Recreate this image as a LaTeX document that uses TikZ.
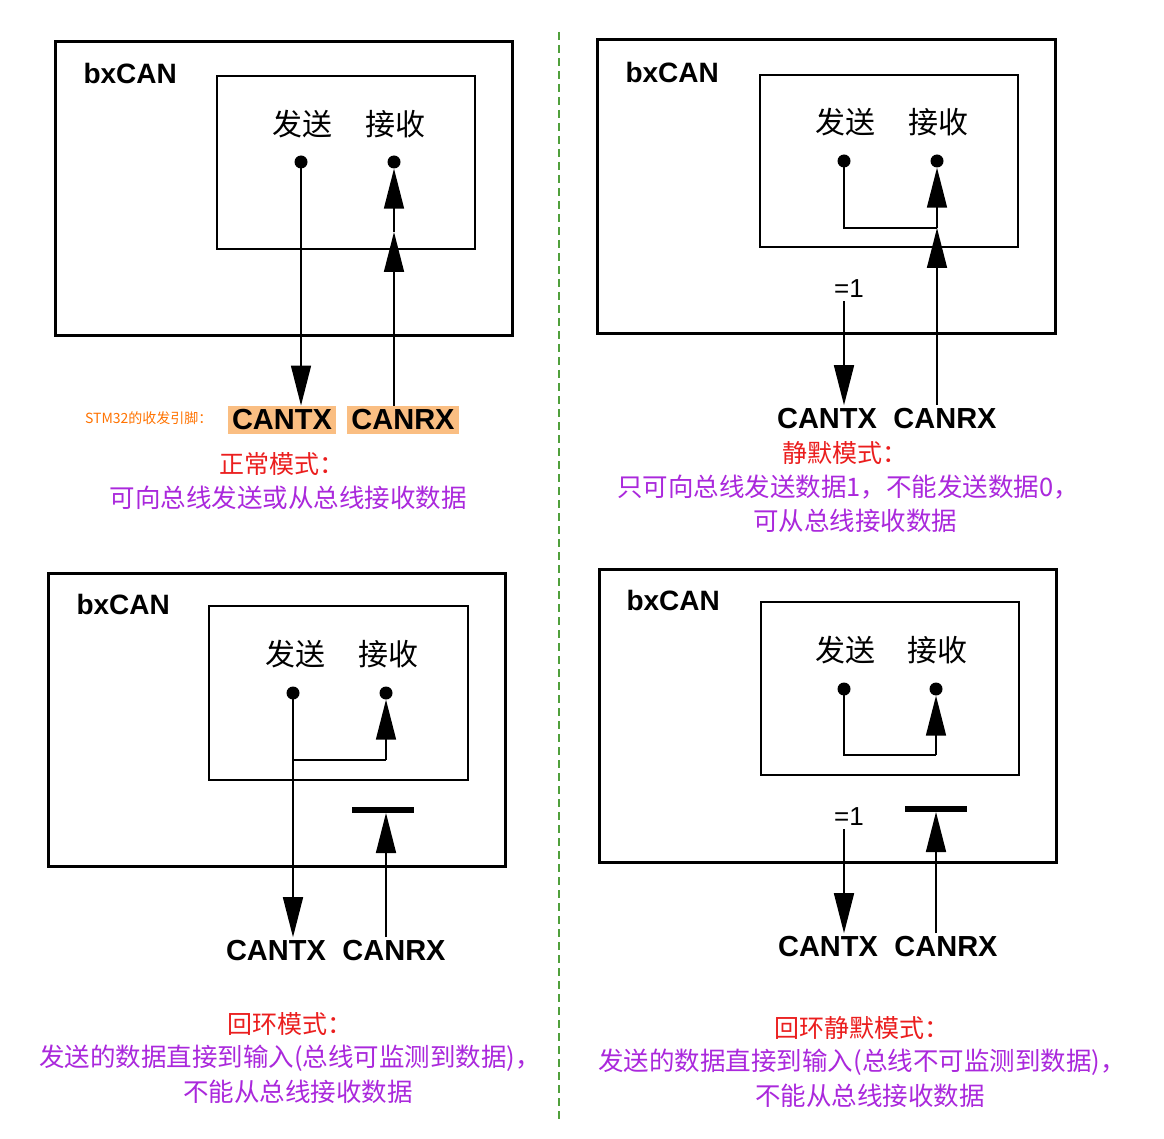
\documentclass[tikz,border=0pt]{standalone}
\usepackage{fontspec}
\setmainfont{Liberation Sans}
\newfontfamily\cjk{Noto Sans CJK SC}
\usetikzlibrary{arrows.meta}
\definecolor{mpurple}{RGB}{170,40,220}
\definecolor{mred}{RGB}{235,30,30}
\definecolor{morange}{RGB}{250,190,130}
\definecolor{mgreen}{RGB}{80,160,60}
\tikzset{
 outer/.style={draw,line width=3pt},
 inner/.style={draw,line width=1.6pt},
 conn/.style={line width=1.6pt},
 arr/.style={conn,-{Triangle[width=20pt,length=40pt]}},
 bx/.style={font=\bfseries\fontsize{28}{30}\selectfont,anchor=west},
 pin/.style={font=\bfseries\fontsize{29}{31}\selectfont},
 zh/.style={font=\cjk\fontsize{30}{32}\selectfont},
 red/.style={font=\cjk\fontsize{25}{27}\selectfont,text=mred},
 pur/.style={font=\cjk\fontsize{25.5}{27}\selectfont,text=mpurple},
 dot/.style={circle,fill,inner sep=0pt,minimum size=13pt},
 eq/.style={font=\fontsize{26}{28}\selectfont},
 bar/.style={line width=6pt}
}
\begin{document}
\begin{tikzpicture}[x=1pt,y=-1pt]
\useasboundingbox[fill=white] (0,0) rectangle (1164,1139);
\draw[mgreen,line width=2.5pt,dash pattern=on 8pt off 5pt] (559,32) -- (559,1120);
% ---------- TL
\draw[outer] (55,42) rectangle (512,336);
\draw[inner] (217,76) rectangle (475,249);
\node[bx] (b1) at (80,73) {bxCAN};
\node[zh] (s1) at (302,124) {发送};
\node[zh] (r1) at (395,124) {接收};
\node[dot] (ds1) at (301,162) {};
\node[dot] (dr1) at (394,162) {};
\node[pin,fill=morange,inner sep=4pt] (tx1) at (282,420) {CANTX};
\node[pin,fill=morange,inner sep=4pt] (rx1) at (403,420) {CANRX};
\node[font=\cjk\fontsize{14}{16}\selectfont,text=orange!90!red,anchor=east] (stm) at (216,418) {STM32的收发引脚：};
\coordinate (m1) at (394,232);
\draw[arr] (ds1.center) -- (ds1|-tx1.north);
\draw[arr] (dr1|-rx1.north) -- (m1);
\draw[arr] (m1) -- (dr1.south);
\node[red] (t1) at (282,464) {正常模式：};
\node[pur] (p1) at (288,498) {可向总线发送或从总线接收数据};
% ---------- TR
\draw[outer] (597,40) rectangle (1055,334);
\draw[inner] (760,75) rectangle (1018,247);
\node[bx] (b2) at (622,72) {bxCAN};
\node[zh] (s2) at (845,122) {发送};
\node[zh] (r2) at (938,122) {接收};
\node[dot] (ds2) at (844,161) {};
\node[dot] (dr2) at (937,161) {};
\node[pin] (tx2) at (827,419) {CANTX};
\node[pin] (rx2) at (945,419) {CANRX};
\coordinate (m2) at (937,228);
\draw[conn] (ds2.center) |- (m2);
\draw[arr] (dr2|-rx2.north) -- (m2);
\draw[arr] (m2) -- (dr2.south);
\node[eq] (e2) at (849,289) {=1};
\draw[arr] (ds2|-e2.south) -- (ds2|-tx2.north);
\node[red] (t2) at (845,453) {静默模式：};
\node[pur] (p2) at (848,487) {只可向总线发送数据1，不能发送数据0，};
\node[pur] (q2) at (855,521) {可从总线接收数据};
% ---------- BL
\draw[outer] (48,573) rectangle (505,866);
\draw[inner] (209,606) rectangle (468,780);
\node[bx] (b3) at (73,604) {bxCAN};
\node[zh] (s3) at (295,654) {发送};
\node[zh] (r3) at (388,654) {接收};
\node[dot] (ds3) at (293,693) {};
\node[dot] (dr3) at (386,693) {};
\node[pin] (tx3) at (276,951) {CANTX};
\node[pin] (rx3) at (394,951) {CANRX};
\coordinate (m3) at (386,760);
\draw[arr] (ds3.center) -- (ds3|-tx3.north);
\draw[conn] (ds3|-m3) -- (m3);
\draw[arr] (m3) -- (dr3.south);
\coordinate (bl3) at (352,810); \coordinate (br3) at (414,810);
\draw[bar] (bl3) -- (br3);
\draw[arr] (dr3|-rx3.north) -- (386,813);
\node[red] (t3) at (290,1024) {回环模式：};
\node[pur] (p3) at (290,1058) {发送的数据直接到输入(总线可监测到数据)，};
\node[pur] (q3) at (298,1092) {不能从总线接收数据};
% ---------- BR
\draw[outer] (599,569) rectangle (1056,862);
\draw[inner] (761,602) rectangle (1019,775);
\node[bx] (b4) at (623,600) {bxCAN};
\node[zh] (s4) at (845,650) {发送};
\node[zh] (r4) at (937,650) {接收};
\node[dot] (ds4) at (844,689) {};
\node[dot] (dr4) at (936,689) {};
\node[pin] (tx4) at (828,947) {CANTX};
\node[pin] (rx4) at (946,947) {CANRX};
\coordinate (m4) at (936,755);
\draw[conn] (ds4.center) |- (m4);
\draw[arr] (m4) -- (dr4.south);
\node[eq] (e4) at (849,817) {=1};
\draw[arr] (ds4|-e4.south) -- (ds4|-tx4.north);
\coordinate (bl4) at (905,809); \coordinate (br4) at (967,809);
\draw[bar] (bl4) -- (br4);
\draw[arr] (dr4|-rx4.north) -- (936,812);
\node[red] (t4) at (862,1028) {回环静默模式：};
\node[pur] (p4) at (862,1062) {发送的数据直接到输入(总线不可监测到数据)，};
\node[pur] (q4) at (870,1096) {不能从总线接收数据};
\end{tikzpicture}
\end{document}
